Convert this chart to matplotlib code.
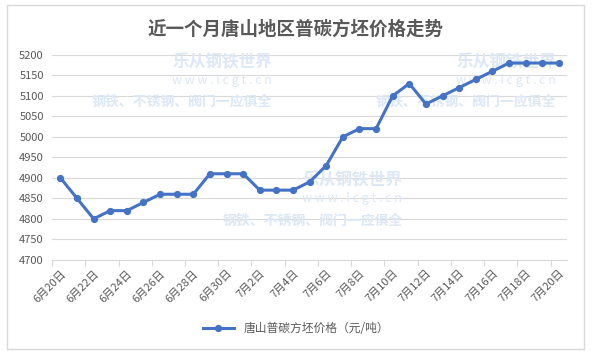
import matplotlib
matplotlib.use("Agg")
import matplotlib.pyplot as plt
from matplotlib.patches import Rectangle
import numpy as np

plt.rcParams['font.family'] = ['Noto Sans CJK SC', 'DejaVu Sans']

# data
dates = ['6月20日', '6月21日', '6月22日', '6月23日', '6月24日', '6月25日', '6月26日',
         '6月27日', '6月28日', '6月29日', '6月30日', '7月1日', '7月2日', '7月3日',
         '7月4日', '7月5日', '7月6日', '7月7日', '7月8日', '7月9日', '7月10日',
         '7月11日', '7月12日', '7月13日', '7月14日', '7月15日', '7月16日', '7月17日',
         '7月18日', '7月19日', '7月20日']
prices = [4900, 4850, 4800, 4820, 4820, 4840, 4860, 4860, 4860, 4910, 4910, 4910,
          4870, 4870, 4870, 4890, 4930, 5000, 5020, 5020, 5100, 5130, 5080, 5100,
          5120, 5140, 5160, 5180, 5180, 5180, 5180]
y_ticks = list(range(4700, 5201, 50))

title = '近一个月唐山地区普碳方坯价格走势'
series_name = '唐山普碳方坯价格（元/吨）'

text_gray = '#595959'
line_blue = '#4472C4'

fig = plt.figure(figsize=(5.92, 3.54), dpi=100)
ax = fig.add_axes([0.088, 0.266, 0.870, 0.579])

x = np.arange(len(prices))
ax.plot(x, prices, color=line_blue, lw=2.2, marker='o', ms=4.2,
        label=series_name, zorder=5)

ax.set_xlim(-0.5, len(prices) - 0.5)
ax.set_ylim(y_ticks[0], y_ticks[-1])
ax.set_yticks(y_ticks)
ax.yaxis.grid(True, color='#D9D9D9', lw=0.8)
ax.set_axisbelow(True)

# tick marks between categories, labels on every second category
ax.set_xticks(np.arange(-0.5, len(prices) - 1, 2))
ax.set_xticklabels([])
ax.set_xticks(x[::2], minor=True)
ax.set_xticklabels(dates[::2], minor=True, rotation=45, ha='right', va='top',
                   rotation_mode='anchor', fontsize=8, color=text_gray)
ax.tick_params(axis='x', which='major', length=4, color='#D9D9D9', width=0.8)
ax.tick_params(axis='x', which='minor', length=0, pad=6)
ax.tick_params(axis='y', length=0, labelsize=8, labelcolor=text_gray, pad=6)

for s in ['top', 'right', 'left']:
    ax.spines[s].set_visible(False)
ax.spines['bottom'].set_color('#D9D9D9')
ax.spines['bottom'].set_linewidth(0.8)

fig.text(0.5, 0.918, title, ha='center', va='center', fontsize=13.3,
         fontweight='bold', color=text_gray)

fig.legend(loc='center', bbox_to_anchor=(0.5, 0.073), frameon=False,
           fontsize=8.5, handlelength=2.6, labelcolor=text_gray)

# faint watermark, behind the line
wm = '#DCE8F6'
tf = fig.transFigure
for cx, cy in [(0.375, 0.825), (0.855, 0.825), (0.595, 0.49)]:
    ax.text(cx, cy, '乐从钢铁世界', transform=tf, ha='center', va='center',
            fontsize=12, fontweight='bold', color=wm, zorder=2, clip_on=False)
    ax.text(cx, cy - 0.052, 'w w w . l c g t . c n', transform=tf, ha='center',
            va='center', fontsize=9, color=wm, zorder=2, clip_on=False)
    ax.text(cx + 0.085, cy - 0.113, '钢铁、不锈钢、阀门一应俱全', transform=tf,
            ha='right', va='center', fontsize=10, fontweight='bold', color=wm,
            zorder=2, clip_on=False)

# chart border
fig.patches.append(Rectangle((0.012, 0.014), 0.975, 0.972, transform=fig.transFigure,
                             fill=False, edgecolor='#D9D9D9', lw=1))

fig.savefig('out.png', dpi=100)
